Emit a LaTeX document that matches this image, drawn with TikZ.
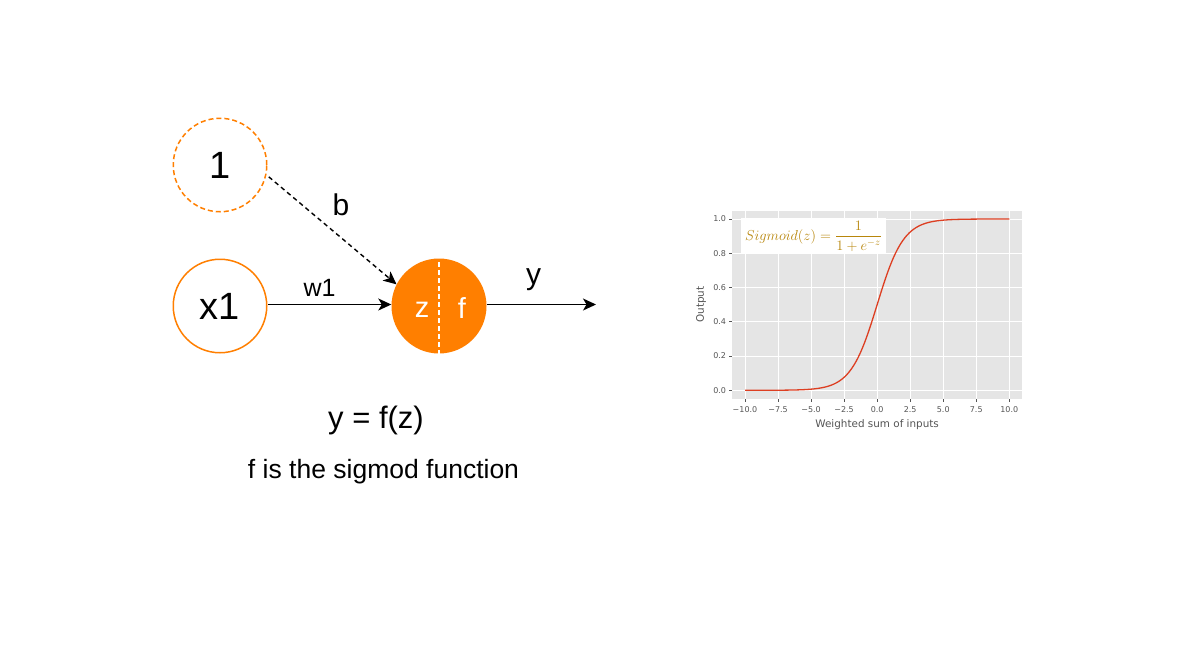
\documentclass[tikz,border=0pt]{standalone}
\usepackage[no-math]{fontspec}
\usepackage{amsmath}
\usetikzlibrary{arrows.meta, positioning}
\newfontfamily\arialfont{Liberation Sans}
\newfontfamily\chartfont{DejaVu Sans}
\definecolor{unitorange}{HTML}{FF7F00}
\definecolor{panelgrey}{HTML}{E5E5E5}
\definecolor{ticktext}{HTML}{555555}
\definecolor{curvered}{HTML}{DD3F22}
\definecolor{formulagold}{HTML}{B8860B}
\tikzset{
	unit/.style={circle, draw=unitorange, line width=1.5pt, minimum size=93.5pt, inner sep=0pt, font=\arialfont\fontsize{38}{42}\selectfont},
	lbl/.style={inner sep=0pt, font=\arialfont\fontsize{#1}{#1}\selectfont},
	ticklbl/.style={inner sep=0pt, text=ticktext, font=\chartfont\fontsize{8}{8}\selectfont},
	axislbl/.style={inner sep=0pt, text=ticktext, font=\chartfont\fontsize{10.4}{11}\selectfont},
	link/.style={-{Stealth[length=13pt, width=12pt, inset=3.5pt]}, line width=1.4pt},
	dashline/.style={dash pattern=on 4.5pt off 3.5pt},
}
\begin{document}
\begin{tikzpicture}[x=1pt, y=-1pt]
	\useasboundingbox[fill=white] (0,0) rectangle (1200,649);

	\begin{scope}
	\node[unit, dash pattern=on 5pt off 3pt] (one) at (220,165) {\raisebox{-1.5pt}{1}};
	\node[unit] (x1) at (220,306) {\raisebox{-1.5pt}{x1}};
	\node[circle, fill=unitorange, minimum size=95pt, inner sep=0pt] (zf) at (439,306) {};
	\coordinate (out) at (596,304.5);

	\draw[white, dashline, line width=1.3pt] ([yshift=-4pt]zf.north) -- (zf.south);
	\node[lbl=29, text=white] (z) at (422,310) {z};
	\node[lbl=29, text=white] (f) at (462,308) {f};

	\path[link] (x1.east |- out) edge node[lbl=25, above=7.5pt, pos=0.42] (w1) {w1} (zf.west |- out);
	\path[link] (zf.east |- out) edge node[lbl=30, above=13pt, pos=0.43] (y) {y} (out);
	\path[link, dashline, shorten <=3pt] (one.-12) edge (zf.153);

	\node[lbl=30] (b) at (341,205) {b};
	\node[lbl=31] (eq) at (376,420) {y = f(z)};
	\node[lbl=26.5] (note) at (383.5,471.5) {f is the sigmod function};
	\end{scope}

	\begin{scope}[shift={(877.15,390.3)}, x=13.215pt, y=171.3pt]
	\fill[panelgrey] (-10.97,-0.05) rectangle (10.97,1.048);
	\foreach \xv in {-10,-7.5,...,10}
		\draw[white, line width=0.8pt] (\xv,-0.05) -- (\xv,1.048);
	\foreach \yv in {0,0.2,...,1.01}
		\draw[white, line width=0.8pt] (-10.97,\yv) -- (10.97,\yv);

	\foreach \xv/\xlab [count=\n] in {-10/−10.0,-7.5/−7.5,-5/−5.0,-2.5/−2.5,0/0.0,2.5/2.5,5/5.0,7.5/7.5,10/10.0} {
		\draw[ticktext, line width=0.6pt] (\xv,-0.05) -- ++(0,-3.5pt);
		\node[ticklbl, anchor=base] (xt\n) at ([yshift=-13.5pt]\xv,-0.05) {\xlab};
	}
	\foreach \yv/\ylab [count=\n] in {0/0.0,0.2/0.2,0.4/0.4,0.6/0.6,0.8/0.8,1/1.0} {
		\draw[ticktext, line width=0.6pt] (-10.97,\yv) -- ++(-3.5pt,0);
		\node[ticklbl, anchor=east] (yt\n) at ([xshift=-6pt]-10.97,\yv) {\ylab};
	}

	\draw[curvered, line width=1.3pt, domain=-10:10, samples=120, smooth] plot (\x, {0.5*(1+tanh(\x/2))});

	\node[axislbl, anchor=base] (xname) at (0,-0.22) {Weighted sum of inputs};
	\node[axislbl, rotate=90] (yname) at (-13.33,0.5) {Output};

	\node[fill=white, text=formulagold, inner sep=0pt, minimum width=145pt, minimum height=36pt, font=\fontsize{14.8}{16}\selectfont] (formula) at (-4.82,0.90) {$Sigmoid(z) = \dfrac{1}{1+e^{-z}}$};
	\end{scope}
\end{tikzpicture}
\end{document}
